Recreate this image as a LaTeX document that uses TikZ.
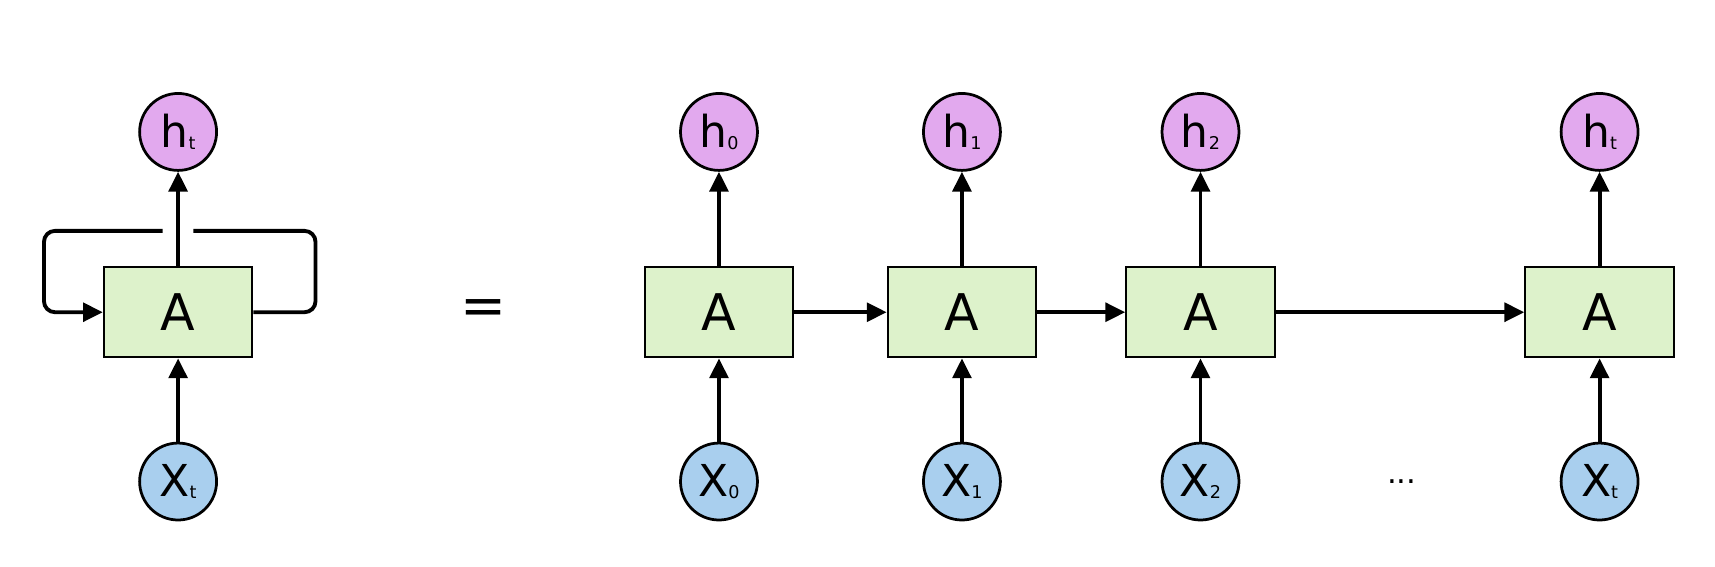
\documentclass[tikz,border=0pt]{standalone}
\usepackage{fontspec}
\setmainfont{DejaVu Sans}
\usetikzlibrary{arrows.meta}
\begin{document}
\begin{tikzpicture}[x=1pt,y=-1pt,
  lw/.style={line width=3.5pt},
  arr/.style={lw,-{Triangle[length=18pt,width=17pt]}},
  cell/.style={draw,line width=2pt,fill=green!15!white,fill=cellg,minimum width=135pt,minimum height=82pt,inner sep=0pt,font=\fontsize{46}{46}\selectfont},
  hn/.style={circle,draw,line width=2.5pt,fill=hpur,minimum size=70pt,inner sep=0pt,font=\fontsize{40}{40}\selectfont},
  xn/.style={circle,draw,line width=2.5pt,fill=xblu,minimum size=70pt,inner sep=0pt,font=\fontsize{40}{40}\selectfont},
  sub/.style={}]
\definecolor{cellg}{HTML}{DDF2CB}
\definecolor{hpur}{HTML}{E2A9EE}
\definecolor{xblu}{HTML}{A9CFEE}
\newcommand{\lbl}[2]{#1\raisebox{-0.05em}{\fontsize{16}{16}\selectfont #2}}
\useasboundingbox (0,0) rectangle (1560,515);
% left folded RNN
\node[cell] (A) at (162,284) {A};
\node[hn] (h) at (162,120) {\lbl{h}{t}};
\node[xn] (x) at (162,438) {\lbl{X}{t}};
\draw[arr] (x) -- (A);
\draw[arr] (A) -- (h);
\coordinate (tl) at (40,210);
\coordinate (tr) at (287,210);
\draw[lw,rounded corners=10pt] (A.east) -- (287,284) -- (tr) -- (176,210);
\draw[arr,rounded corners=10pt] (148,210) -- (tl) -- (40,284) -- (A.west);
\node[font=\fontsize{50}{50}\selectfont] (eq) at (440,284) {=};
% unrolled
\foreach \n/\xx/\s in {0/654/0,1/875/1,2/1092/2,3/1455/t}{
  \node[cell] (A\n) at (\xx,284) {A};
  \node[hn] (h\n) at (\xx,120) {\lbl{h}{\s}};
  \node[xn] (x\n) at (\xx,438) {\lbl{X}{\s}};
  \draw[arr] (x\n) -- (A\n);
  \draw[arr] (A\n) -- (h\n);
}
\draw[arr] (A0) -- (A1);
\draw[arr] (A1) -- (A2);
\draw[arr] (A2) -- (A3);
\node[font=\fontsize{28}{28}\selectfont] (dots) at (1275,438) {...};
\end{tikzpicture}
\end{document}
